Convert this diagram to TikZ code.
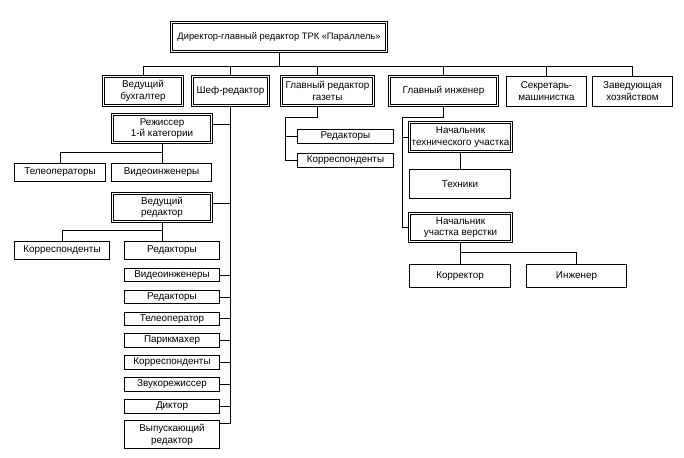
\documentclass[tikz,border=0pt]{standalone}
\usepackage{fontspec}
\setmainfont{Liberation Sans}
\usetikzlibrary{positioning,calc,backgrounds}

\begin{document}
\begin{tikzpicture}[x=.75pt,y=-.75pt,line width=.6pt,
    unit/.style={draw,inner sep=0pt,align=center,
    font=\fontsize{7.4}{8.6}\selectfont,minimum width=71.25pt,minimum height=10.1pt},
    head/.style={unit,line width=.9pt,minimum height=23pt,
    append after command={\pgfextra{\let\headnode\tikzlastnode
      \draw[line width=.55pt] ([shift={(2pt,-2pt)}]\headnode.north west)
        rectangle ([shift={(-2pt,2pt)}]\headnode.south east);}}},
    node distance=16.4pt]

  \useasboundingbox (0,0) rectangle (684,457);

  % top
  \node[head,minimum width=162.5pt,font=\fontsize{7}{8.6}\selectfont] (DIR) at (279,37) {Директор-главный редактор ТРК «Параллель»};

  % second row
  \node[head,minimum width=60.5pt] (BUH) at (143,91) {Ведущий\\бухгалтер};
  \node[head,minimum width=58.25pt] (SHEF) at (230.5,91) {Шеф-редактор};
  \node[head,minimum width=70.25pt] (GAZ) at (327.5,91) {Главный редактор\\газеты};
  \node[head,minimum width=82.25pt] (ING) at (443.5,91) {Главный инженер};
  \node[unit,minimum width=60pt,minimum height=22.5pt] (SEKR) at (546.5,91) {Секретарь-\\машинистка};
  \node[unit,minimum width=60pt,minimum height=22.5pt] (ZAV) at (632.5,91) {Заведующая\\хозяйством};

  % shef
  \node[head,minimum width=75.5pt] (REZH) at (162,128.5) {Режиссер\\1-й категории};
  \node[unit,minimum width=68.25pt,minimum height=13.5pt] (TEL1) at (60,172.5) {Телеоператоры};
  \node[unit,minimum width=75pt,minimum height=13.5pt] (VID1) at (161.5,172.5) {Видеоинженеры};
  \node[head,minimum width=75.5pt] (VED) at (162,207.5) {Ведущий\\редактор};
  \node[unit,minimum height=13.5pt] (KOR1) at (62,250.5) {Корреспонденты};
  \node[unit,minimum height=13.5pt] (RED1) at (172,250.5) {Редакторы};

  \node[unit] (VID2) at (172,275) {Видеоинженеры};
  \node[unit,below of=VID2] (RED2) {Редакторы};
  \node[unit,below of=RED2] (TEL2) {Телеоператор};
  \node[unit,below of=TEL2] (PAR) {Парикмахер};
  \node[unit,below of=PAR] (KOR2) {Корреспонденты};
  \node[unit,below of=KOR2] (ZVUK) {Звукорежиссер};
  \node[unit,below of=ZVUK] (DIK) {Диктор};
  \node[unit,minimum height=21pt,below=5.25pt of DIK] (VYP) {Выпускающий\\редактор};

  % gazeta
  \node[unit,minimum width=72pt,minimum height=10.5pt] (GRED) at (345.5,136) {Редакторы};
  \node[unit,minimum width=72pt,minimum height=10.5pt] (GKOR) at (345.5,160) {Корреспонденты};

  % engineer
  \node[head,minimum width=77.75pt] (NTEH) at (460.5,137) {Начальник\\технического участка};
  \node[unit,minimum width=75.75pt,minimum height=21.75pt] (TEH) at (460,184) {Техники};
  \node[head,minimum width=77.75pt] (NVER) at (460.5,227.5) {Начальник\\участка верстки};
  \node[unit,minimum width=75.75pt,minimum height=17.25pt] (KORR) at (460,276) {Корректор};
  \node[unit,minimum width=75pt,minimum height=17.25pt] (INZH) at (576.5,276) {Инженер};

  \begin{scope}[on background layer]
    \draw (DIR.south) -- ++(0,13) coordinate (BUS);
    \draw (BUH.north) |- (BUS) -| (ZAV.north);
    \foreach \n in {SHEF,ING,SEKR}
      \draw (\n.north) -- (\n.north |- BUS);
    \draw ([xshift=-7.5pt]GAZ.north) coordinate (G) -- (G |- BUS);

    \draw (SHEF.south) |- ([yshift=-2.25pt]VYP.north east);
    \foreach \n in {VID2,RED2,TEL2,PAR,KOR2,ZVUK,DIK}
      \draw (\n.east) -- (\n.east -| SHEF.south);
    \draw ([yshift=-8.5pt]REZH.north east) coordinate (R) -- (R -| SHEF.south);
    \draw ([yshift=-9pt]VED.north east) coordinate (V) -- (V -| SHEF.south);
    \draw (REZH.south) -- (REZH.south |- VID1.north);
    \draw (TEL1.north) -- ++(0,-11) -| (REZH.south);
    \draw (VED.south) -- (VED.south |- RED1.north);
    \draw (KOR1.north) -- ++(0,-11) -| (VED.south);

    \draw ([xshift=-7.5pt]GAZ.south) -- ++(0,10) -| ([xshift=-9pt]GKOR.west) -- (GKOR.west);
    \draw (GRED.west) -- ++(-12,0);

    \draw (ING.south) -- ++(0,10) -| ([xshift=-4.5pt]NVER.west) -- (NVER.west);
    \draw (NTEH.west) -- ++(-6,0);
    \draw (NTEH.south) -- (NTEH.south |- TEH.north);
    \draw (NVER.south) -- (NVER.south |- KORR.north);
    \draw (NVER.south) -- ++(0,9) -| (INZH.north);
  \end{scope}

\end{tikzpicture}
\end{document}
